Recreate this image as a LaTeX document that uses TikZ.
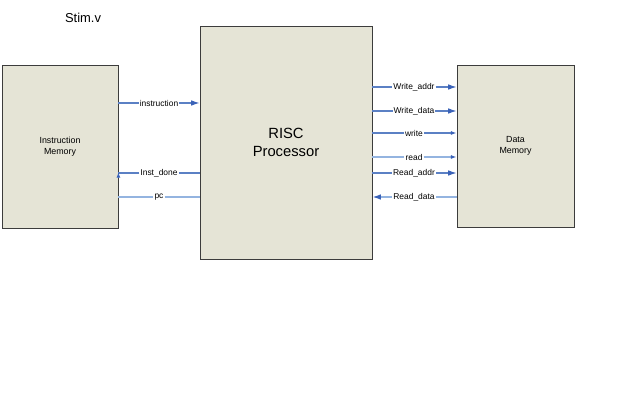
\documentclass[tikz,border=0pt]{standalone}
\usepackage{fontspec}
\setmainfont{Liberation Sans}
\usepackage{xcolor}
\usetikzlibrary{arrows.meta}

\definecolor{boxfill}{HTML}{E5E4D6}
\definecolor{boxline}{HTML}{3C3C3C}
\definecolor{sigdark}{HTML}{5B80C4}
\definecolor{siglight}{HTML}{94B4E0}
\definecolor{tipblue}{HTML}{3A62B8}

\tikzset{
  block/.style={rectangle, draw=boxline, fill=boxfill, line width=0.6pt, align=center},
  lbl/.style={fill=white, inner sep=0.6pt, font=\fontsize{6}{7}\selectfont},
  wire/.style={draw=sigdark, line width=0.8pt},
  lightwire/.style={draw=siglight, line width=1pt},
  tip/.style={-{Latex[length=6pt,width=4pt,color=tipblue]}},
  smalltip/.style={-{Latex[length=4pt,width=2.8pt,color=tipblue]}},
}

\begin{document}
\begin{tikzpicture}[x=0.025cm, y=-0.025cm]
    \useasboundingbox (0,0) rectangle (640,400);
    \node at (83,18) {\fontsize{9.2}{11}\selectfont Stim.v};

    \node[block, minimum width=2.9cm, minimum height=4.075cm, font=\fontsize{6.3}{7.5}\selectfont] (imem) at (60,146.5) {Instruction\\Memory};
    \node[block, minimum width=4.3cm, minimum height=5.825cm, font=\fontsize{10.5}{12.5}\selectfont] (cpu) at (286,142.5) {RISC\\Processor};
    \node[block, minimum width=2.925cm, minimum height=4.05cm, font=\fontsize{6.3}{7.5}\selectfont] (dmem) at (515.5,146) {Data\\Memory};

    % left side
    \node[lbl] (instr) at (159,103) {instruction};
    \node[lbl] (done) at (159,173) {Inst\_done};
    \node[lbl] (pc) at (159,197) {pc};
    \draw[wire] (imem.east |- instr) -- (instr);
    \draw[wire, tip] (instr) -- (cpu.west |- instr);
    \draw[wire] (cpu.west |- done) -- (done) -- (imem.east |- done);
    \draw[wire, smalltip] ([yshift=-0.1cm]imem.east |- done) -- ++(0,-5);
    \draw[lightwire] (imem.east |- pc) -- (pc) -- (cpu.west |- pc);

    % right side
    \node[lbl] (waddr) at (414,87) {Write\_addr};
    \node[lbl] (wdata) at (414,111) {Write\_data};
    \node[lbl] (wr) at (414,133) {write};
    \node[lbl] (rd) at (414,157) {read};
    \node[lbl] (raddr) at (414,173) {Read\_addr};
    \node[lbl] (rdata) at (414,197) {Read\_data};
    \draw[wire] (cpu.east |- waddr) -- (waddr);
    \draw[wire, tip] (waddr) -- (dmem.west |- waddr);
    \draw[wire] (cpu.east |- wdata) -- (wdata);
    \draw[wire, tip] (wdata) -- (dmem.west |- wdata);
    \draw[wire] (cpu.east |- wr) -- (wr);
    \draw[wire, smalltip] (wr) -- (dmem.west |- wr);
    \draw[lightwire] (cpu.east |- rd) -- (rd);
    \draw[lightwire, smalltip] (rd) -- (dmem.west |- rd);
    \draw[wire] (cpu.east |- raddr) -- (raddr);
    \draw[wire, tip] (raddr) -- (dmem.west |- raddr);
    \draw[lightwire] (dmem.west |- rdata) -- (rdata);
    \draw[lightwire, tip] (rdata) -- (cpu.east |- rdata);
\end{tikzpicture}
\end{document}
